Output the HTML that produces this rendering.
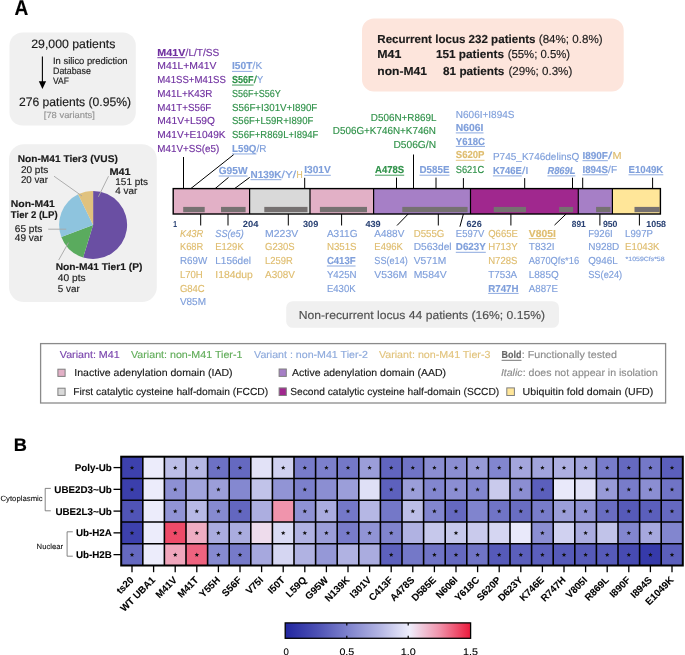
<!DOCTYPE html>
<html><head><meta charset="utf-8"><title>UBA1 variants</title>
<style>
html,body{margin:0;padding:0;background:#fff;}
body{width:685px;height:655px;overflow:hidden;}
svg{display:block;font-family:"Liberation Sans",sans-serif;text-rendering:geometricPrecision;will-change:transform;}
</style></head><body>
<svg width="685" height="655" viewBox="0 0 685 655">
<rect width="685" height="655" fill="#fff"/>
<text x="14.6" y="14.9" font-size="21.5" fill="#000" font-weight="bold" textLength="13.8" lengthAdjust="spacingAndGlyphs" stroke="#000" stroke-width="0.15">A</text>
<rect x="9.5" y="32.5" width="126.3" height="93" fill="#f0f0f0" rx="13"/>
<text x="31.2" y="48" font-size="12.2" fill="#1a1a1a" textLength="84.2" lengthAdjust="spacingAndGlyphs" stroke="#1a1a1a" stroke-width="0.15">29,000 patients</text>
<text x="53" y="64" font-size="9.5" fill="#1a1a1a" textLength="74.6" lengthAdjust="spacingAndGlyphs" stroke="#1a1a1a" stroke-width="0.15">In silico prediction</text>
<text x="53" y="74.2" font-size="9.5" fill="#1a1a1a" textLength="37.8" lengthAdjust="spacingAndGlyphs" stroke="#1a1a1a" stroke-width="0.15">Database</text>
<text x="53" y="84.2" font-size="9.5" fill="#1a1a1a" textLength="15.8" lengthAdjust="spacingAndGlyphs" stroke="#1a1a1a" stroke-width="0.15">VAF</text>
<line x1="42.4" y1="56.6" x2="42.4" y2="82.5" stroke="#000" stroke-width="1.1"/>
<polygon points="38.8,81.3 46.1,81.3 42.45,88.9" fill="#000"/>
<text x="18.9" y="106" font-size="12.2" fill="#1a1a1a" textLength="112.2" lengthAdjust="spacingAndGlyphs" stroke="#1a1a1a" stroke-width="0.15">276 patients (0.95%)</text>
<text x="43.8" y="118.1" font-size="8.9" fill="#949494" textLength="51.1" lengthAdjust="spacingAndGlyphs" stroke="#949494" stroke-width="0.15">[78 variants]</text>
<rect x="9" y="144.2" width="147.8" height="157.9" fill="#f0f0f0" rx="15"/>
<path d="M93.1 224.9 L93.1 190.9 A34 34 0 1 1 83.18 257.42 Z" fill="#6a4fa3"/>
<path d="M93.1 224.9 L83.18 257.42 A34 34 0 0 1 61.33 237.01 Z" fill="#5aab5e"/>
<path d="M93.1 224.9 L61.33 237.01 A34 34 0 0 1 78.15 194.36 Z" fill="#8ec4de"/>
<path d="M93.1 224.9 L78.15 194.36 A34 34 0 0 1 93.1 190.9 Z" fill="#e0c27e"/>
<line x1="54" y1="176.2" x2="82" y2="196" stroke="#a6a6a6" stroke-width="0.9"/>
<line x1="108.5" y1="176.2" x2="98.4" y2="196.8" stroke="#a6a6a6" stroke-width="0.9"/>
<line x1="48.2" y1="229.2" x2="66.2" y2="229.2" stroke="#a6a6a6" stroke-width="0.9"/>
<line x1="58.7" y1="260" x2="68.5" y2="242.6" stroke="#a6a6a6" stroke-width="0.9"/>
<text x="17.8" y="162.2" font-size="9.8" fill="#1a1a1a" font-weight="bold" textLength="100" lengthAdjust="spacingAndGlyphs" stroke="#1a1a1a" stroke-width="0.15">Non-M41 Tier3 (VUS)</text>
<text x="20.9" y="172.7" font-size="9.8" fill="#1a1a1a" textLength="27.3" lengthAdjust="spacingAndGlyphs" stroke="#1a1a1a" stroke-width="0.15">20 pts</text>
<text x="20.9" y="182.7" font-size="9.8" fill="#1a1a1a" textLength="27.1" lengthAdjust="spacingAndGlyphs" stroke="#1a1a1a" stroke-width="0.15">20 var</text>
<text x="109.4" y="175" font-size="9.8" fill="#1a1a1a" font-weight="bold" textLength="21.3" lengthAdjust="spacingAndGlyphs" stroke="#1a1a1a" stroke-width="0.15">M41</text>
<text x="115.3" y="184.8" font-size="9.8" fill="#1a1a1a" textLength="32.7" lengthAdjust="spacingAndGlyphs" stroke="#1a1a1a" stroke-width="0.15">151 pts</text>
<text x="115.3" y="194.2" font-size="9.8" fill="#1a1a1a" textLength="21.9" lengthAdjust="spacingAndGlyphs" stroke="#1a1a1a" stroke-width="0.15">4 var</text>
<text x="10.8" y="206.6" font-size="9.8" fill="#1a1a1a" font-weight="bold" textLength="44" lengthAdjust="spacingAndGlyphs" stroke="#1a1a1a" stroke-width="0.15">Non-M41</text>
<text x="10.8" y="218.2" font-size="9.8" fill="#1a1a1a" font-weight="bold" textLength="46.8" lengthAdjust="spacingAndGlyphs" stroke="#1a1a1a" stroke-width="0.15">Tier 2 (LP)</text>
<text x="14.8" y="231.6" font-size="9.8" fill="#1a1a1a" textLength="27.6" lengthAdjust="spacingAndGlyphs" stroke="#1a1a1a" stroke-width="0.15">65 pts</text>
<text x="14.8" y="241.4" font-size="9.8" fill="#1a1a1a" textLength="28" lengthAdjust="spacingAndGlyphs" stroke="#1a1a1a" stroke-width="0.15">49 var</text>
<text x="55.7" y="270.1" font-size="9.8" fill="#1a1a1a" font-weight="bold" textLength="86.7" lengthAdjust="spacingAndGlyphs" stroke="#1a1a1a" stroke-width="0.15">Non-M41 Tier1 (P)</text>
<text x="57.8" y="281.1" font-size="9.8" fill="#1a1a1a" textLength="27.8" lengthAdjust="spacingAndGlyphs" stroke="#1a1a1a" stroke-width="0.15">40 pts</text>
<text x="57.8" y="291.6" font-size="9.8" fill="#1a1a1a" textLength="21.9" lengthAdjust="spacingAndGlyphs" stroke="#1a1a1a" stroke-width="0.15">5 var</text>
<rect x="362" y="18.4" width="261.7" height="73.1" fill="#fde5dc" rx="12"/>
<text x="377.3" y="42.8" font-size="11.6" fill="#1a1a1a" font-weight="bold" textLength="158.2" lengthAdjust="spacingAndGlyphs" stroke="#1a1a1a" stroke-width="0.15">Recurrent locus 232 patients</text>
<text x="538.8" y="42.8" font-size="11.6" fill="#1a1a1a" textLength="63.8" lengthAdjust="spacingAndGlyphs" stroke="#1a1a1a" stroke-width="0.15">(84%; 0.8%)</text>
<text x="377.3" y="58.4" font-size="11.6" fill="#1a1a1a" font-weight="bold" textLength="24.1" lengthAdjust="spacingAndGlyphs" stroke="#1a1a1a" stroke-width="0.15">M41</text>
<text x="435.9" y="58.4" font-size="11.6" fill="#1a1a1a" font-weight="bold" textLength="68.1" lengthAdjust="spacingAndGlyphs" stroke="#1a1a1a" stroke-width="0.15">151 patients</text>
<text x="507.7" y="58.4" font-size="11.6" fill="#1a1a1a" textLength="62.4" lengthAdjust="spacingAndGlyphs" stroke="#1a1a1a" stroke-width="0.15">(55%; 0.5%)</text>
<text x="377.3" y="74.6" font-size="11.6" fill="#1a1a1a" font-weight="bold" textLength="49.7" lengthAdjust="spacingAndGlyphs" stroke="#1a1a1a" stroke-width="0.15">non-M41</text>
<text x="443.1" y="74.6" font-size="11.6" fill="#1a1a1a" font-weight="bold" textLength="61.3" lengthAdjust="spacingAndGlyphs" stroke="#1a1a1a" stroke-width="0.15">81 patients</text>
<text x="508.4" y="74.6" font-size="11.6" fill="#1a1a1a" textLength="63.9" lengthAdjust="spacingAndGlyphs" stroke="#1a1a1a" stroke-width="0.15">(29%; 0.3%)</text>
<text x="157.3" y="55.8" font-size="10.2" fill="#7030a0" font-weight="bold" textLength="28" lengthAdjust="spacingAndGlyphs" stroke="#7030a0" stroke-width="0.15">M41V</text>
<line x1="157.3" y1="57.7" x2="185.3" y2="57.7" stroke="#7030a0" stroke-width="0.9"/>
<text x="185.6" y="55.8" font-size="10.2" fill="#7030a0" textLength="33.7" lengthAdjust="spacingAndGlyphs" stroke="#7030a0" stroke-width="0.15">/L/T/SS</text>
<text x="157.3" y="69.48" font-size="10.2" fill="#7030a0" textLength="59.1" lengthAdjust="spacingAndGlyphs" stroke="#7030a0" stroke-width="0.15">M41L+M41V</text>
<text x="157.3" y="83.16" font-size="10.2" fill="#7030a0" textLength="68.6" lengthAdjust="spacingAndGlyphs" stroke="#7030a0" stroke-width="0.15">M41SS+M41SS</text>
<text x="157.3" y="96.84" font-size="10.2" fill="#7030a0" textLength="55.2" lengthAdjust="spacingAndGlyphs" stroke="#7030a0" stroke-width="0.15">M41L+K43R</text>
<text x="157.3" y="110.52" font-size="10.2" fill="#7030a0" textLength="54" lengthAdjust="spacingAndGlyphs" stroke="#7030a0" stroke-width="0.15">M41T+S56F</text>
<text x="157.3" y="124.2" font-size="10.2" fill="#7030a0" textLength="57.7" lengthAdjust="spacingAndGlyphs" stroke="#7030a0" stroke-width="0.15">M41V+L59Q</text>
<text x="157.3" y="137.88" font-size="10.2" fill="#7030a0" textLength="68.3" lengthAdjust="spacingAndGlyphs" stroke="#7030a0" stroke-width="0.15">M41V+E1049K</text>
<text x="157.3" y="151.56" font-size="10.2" fill="#7030a0" textLength="62" lengthAdjust="spacingAndGlyphs" stroke="#7030a0" stroke-width="0.15">M41V+SS(e5)</text>
<text x="232" y="69.48" font-size="10.2" fill="#7f9fdb" font-weight="bold" textLength="20.4" lengthAdjust="spacingAndGlyphs" stroke="#7f9fdb" stroke-width="0.15">I50T</text>
<line x1="232" y1="71.38" x2="252.4" y2="71.38" stroke="#7f9fdb" stroke-width="0.9"/>
<text x="252.6" y="69.48" font-size="10.2" fill="#7f9fdb" textLength="9.6" lengthAdjust="spacingAndGlyphs" stroke="#7f9fdb" stroke-width="0.15">/K</text>
<text x="232" y="83.16" font-size="10.2" fill="#2e9148" font-weight="bold" textLength="21.6" lengthAdjust="spacingAndGlyphs" stroke="#2e9148" stroke-width="0.15">S56F</text>
<line x1="232" y1="85.06" x2="253.6" y2="85.06" stroke="#2e9148" stroke-width="0.9"/>
<text x="253.8" y="83.16" font-size="10.2" fill="#2e9148" textLength="3.2" lengthAdjust="spacingAndGlyphs" stroke="#2e9148" stroke-width="0.15">/</text>
<text x="257" y="83.16" font-size="10.2" fill="#7f9fdb" textLength="6.2" lengthAdjust="spacingAndGlyphs" stroke="#7f9fdb" stroke-width="0.15">Y</text>
<text x="232" y="96.84" font-size="10.2" fill="#2e9148" textLength="48.9" lengthAdjust="spacingAndGlyphs" stroke="#2e9148" stroke-width="0.15">S56F+S56Y</text>
<text x="232" y="110.52" font-size="10.2" fill="#2e9148" textLength="85.3" lengthAdjust="spacingAndGlyphs" stroke="#2e9148" stroke-width="0.15">S56F+I301V+I890F</text>
<text x="232" y="124.2" font-size="10.2" fill="#2e9148" textLength="81.3" lengthAdjust="spacingAndGlyphs" stroke="#2e9148" stroke-width="0.15">S56F+L59R+I890F</text>
<text x="232" y="137.88" font-size="10.2" fill="#2e9148" textLength="86.4" lengthAdjust="spacingAndGlyphs" stroke="#2e9148" stroke-width="0.15">S56F+R869L+I894F</text>
<text x="232" y="152.06" font-size="10.2" fill="#7f9fdb" font-weight="bold" textLength="24.4" lengthAdjust="spacingAndGlyphs" stroke="#7f9fdb" stroke-width="0.15">L59Q</text>
<line x1="232" y1="153.96" x2="256.4" y2="153.96" stroke="#7f9fdb" stroke-width="0.9"/>
<text x="256.6" y="152.06" font-size="10.2" fill="#7f9fdb" textLength="10" lengthAdjust="spacingAndGlyphs" stroke="#7f9fdb" stroke-width="0.15">/R</text>
<text x="218.7" y="174.1" font-size="10.2" fill="#7f9fdb" font-weight="bold" textLength="28.8" lengthAdjust="spacingAndGlyphs" stroke="#7f9fdb" stroke-width="0.15">G95W</text>
<line x1="218.7" y1="176" x2="247.5" y2="176" stroke="#7f9fdb" stroke-width="0.9"/>
<text x="250.5" y="177.8" font-size="10.2" fill="#7f9fdb" font-weight="bold" textLength="30.9" lengthAdjust="spacingAndGlyphs" stroke="#7f9fdb" stroke-width="0.15">N139K</text>
<line x1="250.5" y1="179.7" x2="281.4" y2="179.7" stroke="#7f9fdb" stroke-width="0.9"/>
<text x="281.6" y="177.8" font-size="10.2" fill="#7f9fdb" textLength="14.6" lengthAdjust="spacingAndGlyphs" stroke="#7f9fdb" stroke-width="0.15">/Y/</text>
<text x="296.6" y="177.8" font-size="10.2" fill="#dfbd6f" textLength="6.2" lengthAdjust="spacingAndGlyphs" stroke="#dfbd6f" stroke-width="0.15">H</text>
<text x="304.2" y="173.4" font-size="10.2" fill="#7f9fdb" font-weight="bold" textLength="26.6" lengthAdjust="spacingAndGlyphs" stroke="#7f9fdb" stroke-width="0.15">I301V</text>
<line x1="304.2" y1="175.3" x2="330.8" y2="175.3" stroke="#7f9fdb" stroke-width="0.9"/>
<text x="370.8" y="120.7" font-size="10.2" fill="#2e9148" textLength="65.6" lengthAdjust="spacingAndGlyphs" stroke="#2e9148" stroke-width="0.15">D506N+R869L</text>
<text x="332.8" y="134.4" font-size="10.2" fill="#2e9148" textLength="103.2" lengthAdjust="spacingAndGlyphs" stroke="#2e9148" stroke-width="0.15">D506G+K746N+K746N</text>
<text x="393.5" y="148.4" font-size="10.2" fill="#2e9148" textLength="42.5" lengthAdjust="spacingAndGlyphs" stroke="#2e9148" stroke-width="0.15">D506G/N</text>
<text x="375" y="173.3" font-size="10.2" fill="#2e9148" font-weight="bold" textLength="29.2" lengthAdjust="spacingAndGlyphs" stroke="#2e9148" stroke-width="0.15">A478S</text>
<line x1="375" y1="175.2" x2="404.2" y2="175.2" stroke="#2e9148" stroke-width="0.9"/>
<text x="419.5" y="173.3" font-size="10.2" fill="#7f9fdb" font-weight="bold" textLength="30" lengthAdjust="spacingAndGlyphs" stroke="#7f9fdb" stroke-width="0.15">D585E</text>
<line x1="419.5" y1="175.2" x2="449.5" y2="175.2" stroke="#7f9fdb" stroke-width="0.9"/>
<text x="455.8" y="117.5" font-size="10.2" fill="#7f9fdb" textLength="58.7" lengthAdjust="spacingAndGlyphs" stroke="#7f9fdb" stroke-width="0.15">N606I+I894S</text>
<text x="455.8" y="131" font-size="10.2" fill="#7f9fdb" font-weight="bold" textLength="27.7" lengthAdjust="spacingAndGlyphs" stroke="#7f9fdb" stroke-width="0.15">N606I</text>
<line x1="455.8" y1="132.9" x2="483.5" y2="132.9" stroke="#7f9fdb" stroke-width="0.9"/>
<text x="455.8" y="144.5" font-size="10.2" fill="#7f9fdb" font-weight="bold" textLength="29.2" lengthAdjust="spacingAndGlyphs" stroke="#7f9fdb" stroke-width="0.15">Y618C</text>
<line x1="455.8" y1="146.4" x2="485" y2="146.4" stroke="#7f9fdb" stroke-width="0.9"/>
<text x="455.8" y="158.4" font-size="10.2" fill="#dfbd6f" font-weight="bold" textLength="28.7" lengthAdjust="spacingAndGlyphs" stroke="#dfbd6f" stroke-width="0.15">S620P</text>
<line x1="455.8" y1="160.3" x2="484.5" y2="160.3" stroke="#dfbd6f" stroke-width="0.9"/>
<text x="455.8" y="172.6" font-size="10.2" fill="#2e9148" textLength="28.3" lengthAdjust="spacingAndGlyphs" stroke="#2e9148" stroke-width="0.15">S621C</text>
<text x="492.9" y="160.4" font-size="10.2" fill="#7f9fdb" textLength="86.4" lengthAdjust="spacingAndGlyphs" stroke="#7f9fdb" stroke-width="0.15">P745_K746delinsQ</text>
<text x="492.9" y="174" font-size="10.2" fill="#7f9fdb" font-weight="bold" textLength="28.9" lengthAdjust="spacingAndGlyphs" stroke="#7f9fdb" stroke-width="0.15">K746E</text>
<line x1="492.9" y1="175.9" x2="521.8" y2="175.9" stroke="#7f9fdb" stroke-width="0.9"/>
<text x="522" y="174" font-size="10.2" fill="#7f9fdb" textLength="6.7" lengthAdjust="spacingAndGlyphs" stroke="#7f9fdb" stroke-width="0.15">/I</text>
<text x="547.4" y="174" font-size="10.2" fill="#7f9fdb" font-weight="bold" font-style="italic" textLength="28" lengthAdjust="spacingAndGlyphs" stroke="#7f9fdb" stroke-width="0.15">R869L</text>
<line x1="547.4" y1="175.9" x2="575.4" y2="175.9" stroke="#7f9fdb" stroke-width="0.9"/>
<text x="582.5" y="158.8" font-size="10.2" fill="#7f9fdb" font-weight="bold" textLength="25.4" lengthAdjust="spacingAndGlyphs" stroke="#7f9fdb" stroke-width="0.15">I890F</text>
<line x1="582.5" y1="160.7" x2="607.9" y2="160.7" stroke="#7f9fdb" stroke-width="0.9"/>
<text x="608.1" y="158.8" font-size="10.2" fill="#7f9fdb" textLength="4.2" lengthAdjust="spacingAndGlyphs" stroke="#7f9fdb" stroke-width="0.15">/</text>
<text x="612.5" y="158.8" font-size="10.2" fill="#dfbd6f" textLength="9.1" lengthAdjust="spacingAndGlyphs" stroke="#dfbd6f" stroke-width="0.15">M</text>
<text x="582.5" y="172.9" font-size="10.2" fill="#7f9fdb" font-weight="bold" textLength="25.4" lengthAdjust="spacingAndGlyphs" stroke="#7f9fdb" stroke-width="0.15">I894S</text>
<line x1="582.5" y1="174.8" x2="607.9" y2="174.8" stroke="#7f9fdb" stroke-width="0.9"/>
<text x="608.1" y="172.9" font-size="10.2" fill="#7f9fdb" textLength="9" lengthAdjust="spacingAndGlyphs" stroke="#7f9fdb" stroke-width="0.15">/F</text>
<text x="628.5" y="172.9" font-size="10.2" fill="#7f9fdb" font-weight="bold" textLength="34.8" lengthAdjust="spacingAndGlyphs" stroke="#7f9fdb" stroke-width="0.15">E1049K</text>
<line x1="628.5" y1="174.8" x2="663.3" y2="174.8" stroke="#7f9fdb" stroke-width="0.9"/>
<line x1="183.5" y1="157" x2="183.5" y2="189" stroke="#000" stroke-width="1"/>
<line x1="233.6" y1="154.7" x2="190.5" y2="188.8" stroke="#000" stroke-width="1"/>
<line x1="228.5" y1="177.4" x2="214.9" y2="188.8" stroke="#000" stroke-width="1"/>
<line x1="249.7" y1="177.4" x2="234.3" y2="188.8" stroke="#000" stroke-width="1"/>
<line x1="304.7" y1="177.8" x2="304.7" y2="189" stroke="#000" stroke-width="1"/>
<line x1="396.5" y1="177.6" x2="396.5" y2="189" stroke="#000" stroke-width="1"/>
<line x1="413.5" y1="154.5" x2="413.5" y2="189" stroke="#000" stroke-width="1"/>
<line x1="436" y1="177.6" x2="436" y2="189" stroke="#000" stroke-width="1"/>
<line x1="463.4" y1="178.1" x2="463.4" y2="189" stroke="#000" stroke-width="1"/>
<line x1="524.7" y1="178.1" x2="524.7" y2="189" stroke="#000" stroke-width="1"/>
<line x1="572.5" y1="177.7" x2="572.5" y2="189" stroke="#000" stroke-width="1"/>
<line x1="582.7" y1="177.7" x2="582.7" y2="189" stroke="#000" stroke-width="1"/>
<line x1="652.6" y1="177.7" x2="652.6" y2="189" stroke="#000" stroke-width="1"/>
<rect x="173.2" y="188.6" width="76.4" height="25.4" fill="#e2b0c6"/>
<rect x="249.6" y="188.6" width="60.4" height="25.4" fill="#d9d9d9"/>
<rect x="310" y="188.6" width="63.6" height="25.4" fill="#e2b0c6"/>
<rect x="373.6" y="188.6" width="96.9" height="25.4" fill="#a67fc6"/>
<rect x="470.5" y="188.6" width="107.8" height="25.4" fill="#a0288e"/>
<rect x="578.3" y="188.6" width="34.1" height="25.4" fill="#a67fc6"/>
<rect x="612.4" y="188.6" width="48" height="25.4" fill="#ffe699"/>
<rect x="183.2" y="206.9" width="21.5" height="5.3" fill="#767171"/>
<rect x="221" y="206.9" width="24.6" height="5.3" fill="#767171"/>
<rect x="264.3" y="206.9" width="43.2" height="5.3" fill="#767171"/>
<rect x="319.9" y="206.9" width="47.1" height="5.3" fill="#767171"/>
<rect x="402.3" y="206.9" width="65.3" height="5.3" fill="#767171"/>
<rect x="493.7" y="206.9" width="32.3" height="5.3" fill="#767171"/>
<rect x="559.1" y="206.9" width="14" height="5.3" fill="#767171"/>
<rect x="596.1" y="206.9" width="14.4" height="5.3" fill="#767171"/>
<rect x="634.5" y="206.9" width="25" height="5.3" fill="#767171"/>
<line x1="249.6" y1="188.6" x2="249.6" y2="214" stroke="#000" stroke-width="1.2"/>
<line x1="310" y1="188.6" x2="310" y2="214" stroke="#000" stroke-width="1.2"/>
<line x1="373.6" y1="188.6" x2="373.6" y2="214" stroke="#000" stroke-width="1.2"/>
<line x1="470.5" y1="188.6" x2="470.5" y2="214" stroke="#000" stroke-width="1.2"/>
<line x1="578.3" y1="188.6" x2="578.3" y2="214" stroke="#000" stroke-width="1.2"/>
<line x1="612.4" y1="188.6" x2="612.4" y2="214" stroke="#000" stroke-width="1.2"/>
<rect x="173.2" y="188.6" width="487.2" height="25.4" fill="none" stroke="#000" stroke-width="1.4"/>
<line x1="200.7" y1="214" x2="200.7" y2="225.5" stroke="#000" stroke-width="1"/>
<line x1="228" y1="214" x2="228" y2="225.5" stroke="#000" stroke-width="1"/>
<line x1="288.3" y1="214" x2="288.3" y2="225.5" stroke="#000" stroke-width="1"/>
<line x1="341.6" y1="214" x2="341.6" y2="225.5" stroke="#000" stroke-width="1"/>
<line x1="438.3" y1="214" x2="438.3" y2="225.5" stroke="#000" stroke-width="1"/>
<line x1="510.9" y1="214" x2="510.9" y2="225.5" stroke="#000" stroke-width="1"/>
<line x1="599.9" y1="214" x2="599.9" y2="225.5" stroke="#000" stroke-width="1"/>
<line x1="639.4" y1="214" x2="639.4" y2="225.5" stroke="#000" stroke-width="1"/>
<line x1="408.2" y1="214" x2="397" y2="225.5" stroke="#000" stroke-width="1"/>
<line x1="463.4" y1="214" x2="459.9" y2="226.7" stroke="#000" stroke-width="1"/>
<line x1="566.1" y1="214" x2="554.5" y2="225.1" stroke="#000" stroke-width="1"/>
<text x="173.2" y="226.5" font-size="8.8" fill="#2a4274" font-weight="bold" textLength="3.7" lengthAdjust="spacingAndGlyphs" stroke="#2a4274" stroke-width="0.05">1</text>
<text x="242.8" y="226.5" font-size="8.8" fill="#2a4274" font-weight="bold" textLength="15.6" lengthAdjust="spacingAndGlyphs" stroke="#2a4274" stroke-width="0.05">204</text>
<text x="303" y="226.5" font-size="8.8" fill="#2a4274" font-weight="bold" textLength="15.2" lengthAdjust="spacingAndGlyphs" stroke="#2a4274" stroke-width="0.05">309</text>
<text x="365.4" y="226.5" font-size="8.8" fill="#2a4274" font-weight="bold" textLength="15.2" lengthAdjust="spacingAndGlyphs" stroke="#2a4274" stroke-width="0.05">439</text>
<text x="466.5" y="226.5" font-size="8.8" fill="#2a4274" font-weight="bold" textLength="15.2" lengthAdjust="spacingAndGlyphs" stroke="#2a4274" stroke-width="0.05">626</text>
<text x="571.8" y="226.5" font-size="8.8" fill="#2a4274" font-weight="bold" textLength="13.9" lengthAdjust="spacingAndGlyphs" stroke="#2a4274" stroke-width="0.05">891</text>
<text x="602.9" y="226.5" font-size="8.8" fill="#2a4274" font-weight="bold" textLength="14.6" lengthAdjust="spacingAndGlyphs" stroke="#2a4274" stroke-width="0.05">950</text>
<text x="646.3" y="226.5" font-size="8.8" fill="#2a4274" font-weight="bold" textLength="19.7" lengthAdjust="spacingAndGlyphs" stroke="#2a4274" stroke-width="0.05">1058</text>
<text x="179.9" y="236.7" font-size="10.2" fill="#dfbd6f" font-style="italic" textLength="23.4" lengthAdjust="spacingAndGlyphs" stroke="#dfbd6f" stroke-width="0.15">K43R</text>
<text x="179.9" y="250.4" font-size="10.2" fill="#dfbd6f" textLength="23.4" lengthAdjust="spacingAndGlyphs" stroke="#dfbd6f" stroke-width="0.15">K68R</text>
<text x="179.9" y="264.1" font-size="10.2" fill="#7f9fdb" textLength="27.3" lengthAdjust="spacingAndGlyphs" stroke="#7f9fdb" stroke-width="0.15">R69W</text>
<text x="179.9" y="277.8" font-size="10.2" fill="#dfbd6f" textLength="22.9" lengthAdjust="spacingAndGlyphs" stroke="#dfbd6f" stroke-width="0.15">L70H</text>
<text x="179.9" y="291.5" font-size="10.2" fill="#dfbd6f" textLength="24.8" lengthAdjust="spacingAndGlyphs" stroke="#dfbd6f" stroke-width="0.15">G84C</text>
<text x="179.9" y="305.2" font-size="10.2" fill="#7f9fdb" textLength="26.1" lengthAdjust="spacingAndGlyphs" stroke="#7f9fdb" stroke-width="0.15">V85M</text>
<text x="215.3" y="236.7" font-size="10.2" fill="#7f9fdb" font-style="italic" textLength="28.4" lengthAdjust="spacingAndGlyphs" stroke="#7f9fdb" stroke-width="0.15">SS(e5)</text>
<text x="215.3" y="250.4" font-size="10.2" fill="#dfbd6f" textLength="28.4" lengthAdjust="spacingAndGlyphs" stroke="#dfbd6f" stroke-width="0.15">E129K</text>
<text x="215.3" y="264.1" font-size="10.2" fill="#7f9fdb" textLength="35.7" lengthAdjust="spacingAndGlyphs" stroke="#7f9fdb" stroke-width="0.15">L156del</text>
<text x="215.3" y="277.8" font-size="10.2" fill="#dfbd6f" textLength="37.6" lengthAdjust="spacingAndGlyphs" stroke="#dfbd6f" stroke-width="0.15">I184dup</text>
<text x="265.1" y="236.7" font-size="10.2" fill="#7f9fdb" textLength="33.1" lengthAdjust="spacingAndGlyphs" stroke="#7f9fdb" stroke-width="0.15">M223V</text>
<text x="265.1" y="250.4" font-size="10.2" fill="#dfbd6f" textLength="29.5" lengthAdjust="spacingAndGlyphs" stroke="#dfbd6f" stroke-width="0.15">G230S</text>
<text x="265.1" y="264.1" font-size="10.2" fill="#dfbd6f" textLength="27.7" lengthAdjust="spacingAndGlyphs" stroke="#dfbd6f" stroke-width="0.15">L259R</text>
<text x="265.1" y="277.8" font-size="10.2" fill="#dfbd6f" textLength="29.9" lengthAdjust="spacingAndGlyphs" stroke="#dfbd6f" stroke-width="0.15">A308V</text>
<text x="326.9" y="236.7" font-size="10.2" fill="#7f9fdb" textLength="30.6" lengthAdjust="spacingAndGlyphs" stroke="#7f9fdb" stroke-width="0.15">A311G</text>
<text x="326.9" y="250.4" font-size="10.2" fill="#dfbd6f" textLength="29.7" lengthAdjust="spacingAndGlyphs" stroke="#dfbd6f" stroke-width="0.15">N351S</text>
<text x="326.9" y="264.1" font-size="10.2" fill="#7f9fdb" font-weight="bold" textLength="28.7" lengthAdjust="spacingAndGlyphs" stroke="#7f9fdb" stroke-width="0.15">C413F</text>
<line x1="326.9" y1="266" x2="355.6" y2="266" stroke="#7f9fdb" stroke-width="0.9"/>
<text x="326.9" y="277.8" font-size="10.2" fill="#7f9fdb" textLength="29.7" lengthAdjust="spacingAndGlyphs" stroke="#7f9fdb" stroke-width="0.15">Y425N</text>
<text x="326.9" y="291.5" font-size="10.2" fill="#7f9fdb" textLength="28.7" lengthAdjust="spacingAndGlyphs" stroke="#7f9fdb" stroke-width="0.15">E430K</text>
<text x="374.3" y="236.7" font-size="10.2" fill="#7f9fdb" textLength="30" lengthAdjust="spacingAndGlyphs" stroke="#7f9fdb" stroke-width="0.15">A488V</text>
<text x="374.3" y="250.4" font-size="10.2" fill="#dfbd6f" textLength="28.6" lengthAdjust="spacingAndGlyphs" stroke="#dfbd6f" stroke-width="0.15">E496K</text>
<text x="374.3" y="264.1" font-size="10.2" fill="#7f9fdb" textLength="33.5" lengthAdjust="spacingAndGlyphs" stroke="#7f9fdb" stroke-width="0.15">SS(e14)</text>
<text x="374.3" y="277.8" font-size="10.2" fill="#7f9fdb" textLength="33" lengthAdjust="spacingAndGlyphs" stroke="#7f9fdb" stroke-width="0.15">V536M</text>
<text x="413.7" y="236.7" font-size="10.2" fill="#dfbd6f" textLength="30.6" lengthAdjust="spacingAndGlyphs" stroke="#dfbd6f" stroke-width="0.15">D555G</text>
<text x="413.7" y="250.4" font-size="10.2" fill="#7f9fdb" textLength="37.9" lengthAdjust="spacingAndGlyphs" stroke="#7f9fdb" stroke-width="0.15">D563del</text>
<text x="413.7" y="264.1" font-size="10.2" fill="#7f9fdb" textLength="32.5" lengthAdjust="spacingAndGlyphs" stroke="#7f9fdb" stroke-width="0.15">V571M</text>
<text x="413.7" y="277.8" font-size="10.2" fill="#7f9fdb" textLength="33" lengthAdjust="spacingAndGlyphs" stroke="#7f9fdb" stroke-width="0.15">M584V</text>
<text x="455.8" y="236.7" font-size="10.2" fill="#7f9fdb" textLength="28.5" lengthAdjust="spacingAndGlyphs" stroke="#7f9fdb" stroke-width="0.15">E597V</text>
<text x="455.8" y="250.4" font-size="10.2" fill="#7f9fdb" font-weight="bold" textLength="30" lengthAdjust="spacingAndGlyphs" stroke="#7f9fdb" stroke-width="0.15">D623Y</text>
<line x1="455.8" y1="252.3" x2="485.8" y2="252.3" stroke="#7f9fdb" stroke-width="0.9"/>
<text x="488.2" y="236.7" font-size="10.2" fill="#dfbd6f" textLength="29.7" lengthAdjust="spacingAndGlyphs" stroke="#dfbd6f" stroke-width="0.15">Q665E</text>
<text x="488.2" y="250.4" font-size="10.2" fill="#dfbd6f" textLength="29.4" lengthAdjust="spacingAndGlyphs" stroke="#dfbd6f" stroke-width="0.15">H713Y</text>
<text x="488.2" y="264.1" font-size="10.2" fill="#dfbd6f" textLength="29.2" lengthAdjust="spacingAndGlyphs" stroke="#dfbd6f" stroke-width="0.15">N728S</text>
<text x="488.2" y="277.8" font-size="10.2" fill="#7f9fdb" textLength="29" lengthAdjust="spacingAndGlyphs" stroke="#7f9fdb" stroke-width="0.15">T753A</text>
<text x="488.2" y="291.5" font-size="10.2" fill="#7f9fdb" font-weight="bold" textLength="30.4" lengthAdjust="spacingAndGlyphs" stroke="#7f9fdb" stroke-width="0.15">R747H</text>
<line x1="488.2" y1="293.4" x2="518.6" y2="293.4" stroke="#7f9fdb" stroke-width="0.9"/>
<text x="528.8" y="236.7" font-size="10.2" fill="#dfbd6f" font-weight="bold" textLength="27" lengthAdjust="spacingAndGlyphs" stroke="#dfbd6f" stroke-width="0.15">V805I</text>
<line x1="528.8" y1="238.6" x2="555.8" y2="238.6" stroke="#dfbd6f" stroke-width="0.9"/>
<text x="528.8" y="250.4" font-size="10.2" fill="#7f9fdb" textLength="25.8" lengthAdjust="spacingAndGlyphs" stroke="#7f9fdb" stroke-width="0.15">T832I</text>
<text x="528.8" y="264.1" font-size="10.2" fill="#7f9fdb" textLength="50.3" lengthAdjust="spacingAndGlyphs" stroke="#7f9fdb" stroke-width="0.15">A870Qfs*16</text>
<text x="528.8" y="277.8" font-size="10.2" fill="#7f9fdb" textLength="29.9" lengthAdjust="spacingAndGlyphs" stroke="#7f9fdb" stroke-width="0.15">L885Q</text>
<text x="528.8" y="291.5" font-size="10.2" fill="#7f9fdb" textLength="29.2" lengthAdjust="spacingAndGlyphs" stroke="#7f9fdb" stroke-width="0.15">A887E</text>
<text x="588.2" y="236.7" font-size="10.2" fill="#7f9fdb" textLength="24.5" lengthAdjust="spacingAndGlyphs" stroke="#7f9fdb" stroke-width="0.15">F926I</text>
<text x="588.2" y="250.4" font-size="10.2" fill="#7f9fdb" textLength="31.1" lengthAdjust="spacingAndGlyphs" stroke="#7f9fdb" stroke-width="0.15">N928D</text>
<text x="588.2" y="264.1" font-size="10.2" fill="#7f9fdb" textLength="29.6" lengthAdjust="spacingAndGlyphs" stroke="#7f9fdb" stroke-width="0.15">Q946L</text>
<text x="588.2" y="277.8" font-size="10.2" fill="#7f9fdb" textLength="34" lengthAdjust="spacingAndGlyphs" stroke="#7f9fdb" stroke-width="0.15">SS(e24)</text>
<text x="625.1" y="236.7" font-size="10.2" fill="#7f9fdb" textLength="27.8" lengthAdjust="spacingAndGlyphs" stroke="#7f9fdb" stroke-width="0.15">L997P</text>
<text x="625.1" y="250.4" font-size="10.2" fill="#dfbd6f" textLength="34.4" lengthAdjust="spacingAndGlyphs" stroke="#dfbd6f" stroke-width="0.15">E1043K</text>
<text x="625.6" y="260.5" font-size="6.2" fill="#7f9fdb" textLength="39" lengthAdjust="spacingAndGlyphs" stroke="#7f9fdb" stroke-width="0.15">*1059Cfs*58</text>
<rect x="286.2" y="301.2" width="272.8" height="26.6" fill="#f0f0f0" rx="6.5"/>
<text x="298.8" y="318.9" font-size="11.5" fill="#505050" textLength="246.3" lengthAdjust="spacingAndGlyphs" stroke="#505050" stroke-width="0.15">Non-recurrent locus 44 patients (16%; 0.15%)</text>
<rect x="40.6" y="343.6" width="625" height="59.4" fill="#fff" stroke="#8a8a8a" stroke-width="1.3"/>
<text x="59.8" y="358.4" font-size="10.2" fill="#7a45ad" textLength="59.9" lengthAdjust="spacingAndGlyphs" stroke="#7a45ad" stroke-width="0.15">Variant: M41</text>
<text x="131" y="358.4" font-size="10.2" fill="#62ad5a" textLength="111.4" lengthAdjust="spacingAndGlyphs" stroke="#62ad5a" stroke-width="0.15">Variant: non-M41 Tier-1</text>
<text x="254.1" y="358.4" font-size="10.2" fill="#8eaadc" textLength="113.8" lengthAdjust="spacingAndGlyphs" stroke="#8eaadc" stroke-width="0.15">Variant : non-M41 Tier-2</text>
<text x="378.9" y="358.4" font-size="10.2" fill="#e2c47e" textLength="111.5" lengthAdjust="spacingAndGlyphs" stroke="#e2c47e" stroke-width="0.15">Variant: non-M41 Tier-3</text>
<text x="501.6" y="358.4" font-size="10.2" fill="#666666" font-weight="bold" textLength="19.9" lengthAdjust="spacingAndGlyphs" stroke="#666666" stroke-width="0.15">Bold</text>
<line x1="501.6" y1="360.3" x2="521.5" y2="360.3" stroke="#666666" stroke-width="0.9"/>
<text x="521.7" y="358.4" font-size="10.2" fill="#8c8c8c" textLength="95.3" lengthAdjust="spacingAndGlyphs" stroke="#8c8c8c" stroke-width="0.15">: Functionally tested</text>
<text x="500.9" y="376.2" font-size="10.2" fill="#8c8c8c" font-style="italic" textLength="21.6" lengthAdjust="spacingAndGlyphs" stroke="#8c8c8c" stroke-width="0.15">Italic</text>
<text x="522.7" y="376.2" font-size="10.2" fill="#8c8c8c" textLength="135.1" lengthAdjust="spacingAndGlyphs" stroke="#8c8c8c" stroke-width="0.15">: does not appear in isolation</text>
<rect x="57.9" y="369.2" width="7.2" height="7.2" fill="#e2b0c6" stroke="#7f7f7f" stroke-width="1"/>
<rect x="279.1" y="369" width="7.2" height="7.4" fill="#a67fc6" stroke="#7f7f7f" stroke-width="1"/>
<rect x="57.9" y="388.2" width="7.2" height="7.2" fill="#d9d9d9" stroke="#7f7f7f" stroke-width="1"/>
<rect x="279.1" y="387.9" width="7.2" height="7.6" fill="#a0288e" stroke="#7f7f7f" stroke-width="1"/>
<rect x="506.8" y="387.9" width="7.6" height="7.6" fill="#ffe699" stroke="#7f7f7f" stroke-width="1"/>
<text x="74.3" y="376" font-size="10.2" fill="#1a1a1a" textLength="158.3" lengthAdjust="spacingAndGlyphs" stroke="#1a1a1a" stroke-width="0.15">Inactive adenylation domain (IAD)</text>
<text x="291.9" y="376" font-size="10.2" fill="#1a1a1a" textLength="154.2" lengthAdjust="spacingAndGlyphs" stroke="#1a1a1a" stroke-width="0.15">Active adenylation domain (AAD)</text>
<text x="73.3" y="395" font-size="10.2" fill="#1a1a1a" textLength="194.8" lengthAdjust="spacingAndGlyphs" stroke="#1a1a1a" stroke-width="0.15">First catalytic cysteine half-domain (FCCD)</text>
<text x="290.3" y="395" font-size="10.2" fill="#1a1a1a" textLength="208.9" lengthAdjust="spacingAndGlyphs" stroke="#1a1a1a" stroke-width="0.15">Second catalytic cysteine half-domain (SCCD)</text>
<text x="522.6" y="395" font-size="10.2" fill="#1a1a1a" textLength="130.7" lengthAdjust="spacingAndGlyphs" stroke="#1a1a1a" stroke-width="0.15">Ubiquitin fold domain (UFD)</text>
<text x="13.8" y="451.3" font-size="18.2" fill="#000" font-weight="bold" stroke="#000" stroke-width="0.2">B</text>
<rect x="121.2" y="456.7" width="21.6" height="21.76" fill="#3d41ad"/>
<rect x="121.2" y="478.46" width="21.6" height="21.76" fill="#3b3fac"/>
<rect x="121.2" y="500.22" width="21.6" height="21.76" fill="#5054b6"/>
<rect x="121.2" y="521.98" width="21.6" height="21.76" fill="#3d41ad"/>
<rect x="121.2" y="543.74" width="21.6" height="21.76" fill="#6569c0"/>
<rect x="142.8" y="456.7" width="21.6" height="21.76" fill="#ececfb"/>
<rect x="142.8" y="478.46" width="21.6" height="21.76" fill="#ececfb"/>
<rect x="142.8" y="500.22" width="21.6" height="21.76" fill="#ececfb"/>
<rect x="142.8" y="521.98" width="21.6" height="21.76" fill="#ececfb"/>
<rect x="142.8" y="543.74" width="21.6" height="21.76" fill="#ececfb"/>
<rect x="164.4" y="456.7" width="21.6" height="21.76" fill="#bcbee7"/>
<rect x="164.4" y="478.46" width="21.6" height="21.76" fill="#8d90d3"/>
<rect x="164.4" y="500.22" width="21.6" height="21.76" fill="#9194d5"/>
<rect x="164.4" y="521.98" width="21.6" height="21.76" fill="#ee4b69"/>
<rect x="164.4" y="543.74" width="21.6" height="21.76" fill="#f0a6bc"/>
<rect x="186" y="456.7" width="21.6" height="21.76" fill="#b5b7e4"/>
<rect x="186" y="478.46" width="21.6" height="21.76" fill="#a1a4dc"/>
<rect x="186" y="500.22" width="21.6" height="21.76" fill="#b7b9e5"/>
<rect x="186" y="521.98" width="21.6" height="21.76" fill="#efadc2"/>
<rect x="186" y="543.74" width="21.6" height="21.76" fill="#ee637f"/>
<rect x="207.6" y="456.7" width="21.6" height="21.76" fill="#6d71c4"/>
<rect x="207.6" y="478.46" width="21.6" height="21.76" fill="#9b9ed9"/>
<rect x="207.6" y="500.22" width="21.6" height="21.76" fill="#868ad0"/>
<rect x="207.6" y="521.98" width="21.6" height="21.76" fill="#aaacdf"/>
<rect x="207.6" y="543.74" width="21.6" height="21.76" fill="#868ad0"/>
<rect x="229.2" y="456.7" width="21.6" height="21.76" fill="#6569c0"/>
<rect x="229.2" y="478.46" width="21.6" height="21.76" fill="#8488d0"/>
<rect x="229.2" y="500.22" width="21.6" height="21.76" fill="#6367c0"/>
<rect x="229.2" y="521.98" width="21.6" height="21.76" fill="#aaacdf"/>
<rect x="229.2" y="543.74" width="21.6" height="21.76" fill="#767ac9"/>
<rect x="250.8" y="456.7" width="21.6" height="21.76" fill="#e2e2f7"/>
<rect x="250.8" y="478.46" width="21.6" height="21.76" fill="#c1c3e9"/>
<rect x="250.8" y="500.22" width="21.6" height="21.76" fill="#acaee0"/>
<rect x="250.8" y="521.98" width="21.6" height="21.76" fill="#eedcec"/>
<rect x="250.8" y="543.74" width="21.6" height="21.76" fill="#a6a8de"/>
<rect x="272.4" y="456.7" width="21.6" height="21.76" fill="#d0d1f0"/>
<rect x="272.4" y="478.46" width="21.6" height="21.76" fill="#9194d5"/>
<rect x="272.4" y="500.22" width="21.6" height="21.76" fill="#f094ac"/>
<rect x="272.4" y="521.98" width="21.6" height="21.76" fill="#dadbf4"/>
<rect x="272.4" y="543.74" width="21.6" height="21.76" fill="#d5d6f2"/>
<rect x="294" y="456.7" width="21.6" height="21.76" fill="#787cca"/>
<rect x="294" y="478.46" width="21.6" height="21.76" fill="#7c80cc"/>
<rect x="294" y="500.22" width="21.6" height="21.76" fill="#8f92d4"/>
<rect x="294" y="521.98" width="21.6" height="21.76" fill="#b0b2e2"/>
<rect x="294" y="543.74" width="21.6" height="21.76" fill="#b0b2e2"/>
<rect x="315.6" y="456.7" width="21.6" height="21.76" fill="#7c80cc"/>
<rect x="315.6" y="478.46" width="21.6" height="21.76" fill="#8b8ed2"/>
<rect x="315.6" y="500.22" width="21.6" height="21.76" fill="#aaacdf"/>
<rect x="315.6" y="521.98" width="21.6" height="21.76" fill="#9b9ed9"/>
<rect x="315.6" y="543.74" width="21.6" height="21.76" fill="#9598d7"/>
<rect x="337.2" y="456.7" width="21.6" height="21.76" fill="#7478c8"/>
<rect x="337.2" y="478.46" width="21.6" height="21.76" fill="#9b9ed9"/>
<rect x="337.2" y="500.22" width="21.6" height="21.76" fill="#7478c8"/>
<rect x="337.2" y="521.98" width="21.6" height="21.76" fill="#787cca"/>
<rect x="337.2" y="543.74" width="21.6" height="21.76" fill="#b0b2e2"/>
<rect x="358.8" y="456.7" width="21.6" height="21.76" fill="#9b9ed9"/>
<rect x="358.8" y="478.46" width="21.6" height="21.76" fill="#dfe0f6"/>
<rect x="358.8" y="500.22" width="21.6" height="21.76" fill="#b5b7e4"/>
<rect x="358.8" y="521.98" width="21.6" height="21.76" fill="#9194d5"/>
<rect x="358.8" y="543.74" width="21.6" height="21.76" fill="#aaacdf"/>
<rect x="380.4" y="456.7" width="21.6" height="21.76" fill="#6165bf"/>
<rect x="380.4" y="478.46" width="21.6" height="21.76" fill="#5d61bd"/>
<rect x="380.4" y="500.22" width="21.6" height="21.76" fill="#7478c8"/>
<rect x="380.4" y="521.98" width="21.6" height="21.76" fill="#8084ce"/>
<rect x="380.4" y="543.74" width="21.6" height="21.76" fill="#5d61bd"/>
<rect x="402" y="456.7" width="21.6" height="21.76" fill="#7074c6"/>
<rect x="402" y="478.46" width="21.6" height="21.76" fill="#9b9ed9"/>
<rect x="402" y="500.22" width="21.6" height="21.76" fill="#bcbee7"/>
<rect x="402" y="521.98" width="21.6" height="21.76" fill="#b0b2e2"/>
<rect x="402" y="543.74" width="21.6" height="21.76" fill="#7478c8"/>
<rect x="423.6" y="456.7" width="21.6" height="21.76" fill="#8b8ed2"/>
<rect x="423.6" y="478.46" width="21.6" height="21.76" fill="#8286cf"/>
<rect x="423.6" y="500.22" width="21.6" height="21.76" fill="#8286cf"/>
<rect x="423.6" y="521.98" width="21.6" height="21.76" fill="#c6c8eb"/>
<rect x="423.6" y="543.74" width="21.6" height="21.76" fill="#7074c6"/>
<rect x="445.2" y="456.7" width="21.6" height="21.76" fill="#8b8ed2"/>
<rect x="445.2" y="478.46" width="21.6" height="21.76" fill="#8b8ed2"/>
<rect x="445.2" y="500.22" width="21.6" height="21.76" fill="#6569c0"/>
<rect x="445.2" y="521.98" width="21.6" height="21.76" fill="#c6c8eb"/>
<rect x="445.2" y="543.74" width="21.6" height="21.76" fill="#6569c0"/>
<rect x="466.8" y="456.7" width="21.6" height="21.76" fill="#979ad7"/>
<rect x="466.8" y="478.46" width="21.6" height="21.76" fill="#8286cf"/>
<rect x="466.8" y="500.22" width="21.6" height="21.76" fill="#8084ce"/>
<rect x="466.8" y="521.98" width="21.6" height="21.76" fill="#c9caec"/>
<rect x="466.8" y="543.74" width="21.6" height="21.76" fill="#7074c6"/>
<rect x="488.4" y="456.7" width="21.6" height="21.76" fill="#8286cf"/>
<rect x="488.4" y="478.46" width="21.6" height="21.76" fill="#c9caec"/>
<rect x="488.4" y="500.22" width="21.6" height="21.76" fill="#7074c6"/>
<rect x="488.4" y="521.98" width="21.6" height="21.76" fill="#d5d6f2"/>
<rect x="488.4" y="543.74" width="21.6" height="21.76" fill="#565ab9"/>
<rect x="510" y="456.7" width="21.6" height="21.76" fill="#a4a6dd"/>
<rect x="510" y="478.46" width="21.6" height="21.76" fill="#8b8ed2"/>
<rect x="510" y="500.22" width="21.6" height="21.76" fill="#696dc2"/>
<rect x="510" y="521.98" width="21.6" height="21.76" fill="#e9e9fa"/>
<rect x="510" y="543.74" width="21.6" height="21.76" fill="#5b5fbc"/>
<rect x="531.6" y="456.7" width="21.6" height="21.76" fill="#a1a4dc"/>
<rect x="531.6" y="478.46" width="21.6" height="21.76" fill="#5b5fbc"/>
<rect x="531.6" y="500.22" width="21.6" height="21.76" fill="#787cca"/>
<rect x="531.6" y="521.98" width="21.6" height="21.76" fill="#8b8ed2"/>
<rect x="531.6" y="543.74" width="21.6" height="21.76" fill="#5b5fbc"/>
<rect x="553.2" y="456.7" width="21.6" height="21.76" fill="#aeb0e1"/>
<rect x="553.2" y="478.46" width="21.6" height="21.76" fill="#e9e9fa"/>
<rect x="553.2" y="500.22" width="21.6" height="21.76" fill="#9b9ed9"/>
<rect x="553.2" y="521.98" width="21.6" height="21.76" fill="#d0d1f0"/>
<rect x="553.2" y="543.74" width="21.6" height="21.76" fill="#565ab9"/>
<rect x="574.8" y="456.7" width="21.6" height="21.76" fill="#a1a4dc"/>
<rect x="574.8" y="478.46" width="21.6" height="21.76" fill="#e2e2f7"/>
<rect x="574.8" y="500.22" width="21.6" height="21.76" fill="#8f92d4"/>
<rect x="574.8" y="521.98" width="21.6" height="21.76" fill="#aaacdf"/>
<rect x="574.8" y="543.74" width="21.6" height="21.76" fill="#565ab9"/>
<rect x="596.4" y="456.7" width="21.6" height="21.76" fill="#787cca"/>
<rect x="596.4" y="478.46" width="21.6" height="21.76" fill="#979ad7"/>
<rect x="596.4" y="500.22" width="21.6" height="21.76" fill="#696dc2"/>
<rect x="596.4" y="521.98" width="21.6" height="21.76" fill="#c1c3e9"/>
<rect x="596.4" y="543.74" width="21.6" height="21.76" fill="#565ab9"/>
<rect x="618" y="456.7" width="21.6" height="21.76" fill="#6569c0"/>
<rect x="618" y="478.46" width="21.6" height="21.76" fill="#787cca"/>
<rect x="618" y="500.22" width="21.6" height="21.76" fill="#565ab9"/>
<rect x="618" y="521.98" width="21.6" height="21.76" fill="#8286cf"/>
<rect x="618" y="543.74" width="21.6" height="21.76" fill="#474bb2"/>
<rect x="639.6" y="456.7" width="21.6" height="21.76" fill="#7478c8"/>
<rect x="639.6" y="478.46" width="21.6" height="21.76" fill="#8b8ed2"/>
<rect x="639.6" y="500.22" width="21.6" height="21.76" fill="#5b5fbc"/>
<rect x="639.6" y="521.98" width="21.6" height="21.76" fill="#a6a8de"/>
<rect x="639.6" y="543.74" width="21.6" height="21.76" fill="#363aaa"/>
<rect x="661.2" y="456.7" width="21.6" height="21.76" fill="#5b5fbc"/>
<rect x="661.2" y="478.46" width="21.6" height="21.76" fill="#7074c6"/>
<rect x="661.2" y="500.22" width="21.6" height="21.76" fill="#6569c0"/>
<rect x="661.2" y="521.98" width="21.6" height="21.76" fill="#8286cf"/>
<rect x="661.2" y="543.74" width="21.6" height="21.76" fill="#5b5fbc"/>
<line x1="142.8" y1="456.7" x2="142.8" y2="565.5" stroke="#000" stroke-width="1.6"/>
<line x1="164.4" y1="456.7" x2="164.4" y2="565.5" stroke="#000" stroke-width="1.6"/>
<line x1="186" y1="456.7" x2="186" y2="565.5" stroke="#000" stroke-width="1.6"/>
<line x1="207.6" y1="456.7" x2="207.6" y2="565.5" stroke="#000" stroke-width="1.6"/>
<line x1="229.2" y1="456.7" x2="229.2" y2="565.5" stroke="#000" stroke-width="1.6"/>
<line x1="250.8" y1="456.7" x2="250.8" y2="565.5" stroke="#000" stroke-width="1.6"/>
<line x1="272.4" y1="456.7" x2="272.4" y2="565.5" stroke="#000" stroke-width="1.6"/>
<line x1="294" y1="456.7" x2="294" y2="565.5" stroke="#000" stroke-width="1.6"/>
<line x1="315.6" y1="456.7" x2="315.6" y2="565.5" stroke="#000" stroke-width="1.6"/>
<line x1="337.2" y1="456.7" x2="337.2" y2="565.5" stroke="#000" stroke-width="1.6"/>
<line x1="358.8" y1="456.7" x2="358.8" y2="565.5" stroke="#000" stroke-width="1.6"/>
<line x1="380.4" y1="456.7" x2="380.4" y2="565.5" stroke="#000" stroke-width="1.6"/>
<line x1="402" y1="456.7" x2="402" y2="565.5" stroke="#000" stroke-width="1.6"/>
<line x1="423.6" y1="456.7" x2="423.6" y2="565.5" stroke="#000" stroke-width="1.6"/>
<line x1="445.2" y1="456.7" x2="445.2" y2="565.5" stroke="#000" stroke-width="1.6"/>
<line x1="466.8" y1="456.7" x2="466.8" y2="565.5" stroke="#000" stroke-width="1.6"/>
<line x1="488.4" y1="456.7" x2="488.4" y2="565.5" stroke="#000" stroke-width="1.6"/>
<line x1="510" y1="456.7" x2="510" y2="565.5" stroke="#000" stroke-width="1.6"/>
<line x1="531.6" y1="456.7" x2="531.6" y2="565.5" stroke="#000" stroke-width="1.6"/>
<line x1="553.2" y1="456.7" x2="553.2" y2="565.5" stroke="#000" stroke-width="1.6"/>
<line x1="574.8" y1="456.7" x2="574.8" y2="565.5" stroke="#000" stroke-width="1.6"/>
<line x1="596.4" y1="456.7" x2="596.4" y2="565.5" stroke="#000" stroke-width="1.6"/>
<line x1="618" y1="456.7" x2="618" y2="565.5" stroke="#000" stroke-width="1.6"/>
<line x1="639.6" y1="456.7" x2="639.6" y2="565.5" stroke="#000" stroke-width="1.6"/>
<line x1="661.2" y1="456.7" x2="661.2" y2="565.5" stroke="#000" stroke-width="1.6"/>
<line x1="121.2" y1="478.46" x2="682.8" y2="478.46" stroke="#000" stroke-width="1.6"/>
<line x1="121.2" y1="500.22" x2="682.8" y2="500.22" stroke="#000" stroke-width="1.6"/>
<line x1="121.2" y1="521.98" x2="682.8" y2="521.98" stroke="#000" stroke-width="1.6"/>
<line x1="121.2" y1="543.74" x2="682.8" y2="543.74" stroke="#000" stroke-width="1.6"/>
<rect x="121.2" y="456.7" width="561.6" height="108.8" fill="none" stroke="#000" stroke-width="2"/>
<polygon points="132,465.43 132.62,466.92 134.23,467.05 133.01,468.11 133.38,469.68 132,468.84 130.62,469.68 130.99,468.11 129.77,467.05 131.38,466.92" fill="#111"/>
<polygon points="132,487.19 132.62,488.68 134.23,488.81 133.01,489.87 133.38,491.44 132,490.6 130.62,491.44 130.99,489.87 129.77,488.81 131.38,488.68" fill="#111"/>
<polygon points="132,508.95 132.62,510.44 134.23,510.57 133.01,511.63 133.38,513.2 132,512.36 130.62,513.2 130.99,511.63 129.77,510.57 131.38,510.44" fill="#111"/>
<polygon points="132,530.71 132.62,532.2 134.23,532.33 133.01,533.39 133.38,534.96 132,534.12 130.62,534.96 130.99,533.39 129.77,532.33 131.38,532.2" fill="#111"/>
<polygon points="132,552.47 132.62,553.96 134.23,554.09 133.01,555.15 133.38,556.72 132,555.88 130.62,556.72 130.99,555.15 129.77,554.09 131.38,553.96" fill="#111"/>
<polygon points="175.2,465.43 175.82,466.92 177.43,467.05 176.21,468.11 176.58,469.68 175.2,468.84 173.82,469.68 174.19,468.11 172.97,467.05 174.58,466.92" fill="#111"/>
<polygon points="175.2,487.19 175.82,488.68 177.43,488.81 176.21,489.87 176.58,491.44 175.2,490.6 173.82,491.44 174.19,489.87 172.97,488.81 174.58,488.68" fill="#111"/>
<polygon points="175.2,508.95 175.82,510.44 177.43,510.57 176.21,511.63 176.58,513.2 175.2,512.36 173.82,513.2 174.19,511.63 172.97,510.57 174.58,510.44" fill="#111"/>
<polygon points="175.2,530.71 175.82,532.2 177.43,532.33 176.21,533.39 176.58,534.96 175.2,534.12 173.82,534.96 174.19,533.39 172.97,532.33 174.58,532.2" fill="#111"/>
<polygon points="175.2,552.47 175.82,553.96 177.43,554.09 176.21,555.15 176.58,556.72 175.2,555.88 173.82,556.72 174.19,555.15 172.97,554.09 174.58,553.96" fill="#111"/>
<polygon points="196.8,465.43 197.42,466.92 199.03,467.05 197.81,468.11 198.18,469.68 196.8,468.84 195.42,469.68 195.79,468.11 194.57,467.05 196.18,466.92" fill="#111"/>
<polygon points="196.8,508.95 197.42,510.44 199.03,510.57 197.81,511.63 198.18,513.2 196.8,512.36 195.42,513.2 195.79,511.63 194.57,510.57 196.18,510.44" fill="#111"/>
<polygon points="196.8,530.71 197.42,532.2 199.03,532.33 197.81,533.39 198.18,534.96 196.8,534.12 195.42,534.96 195.79,533.39 194.57,532.33 196.18,532.2" fill="#111"/>
<polygon points="196.8,552.47 197.42,553.96 199.03,554.09 197.81,555.15 198.18,556.72 196.8,555.88 195.42,556.72 195.79,555.15 194.57,554.09 196.18,553.96" fill="#111"/>
<polygon points="218.4,465.43 219.02,466.92 220.63,467.05 219.41,468.11 219.78,469.68 218.4,468.84 217.02,469.68 217.39,468.11 216.17,467.05 217.78,466.92" fill="#111"/>
<polygon points="218.4,487.19 219.02,488.68 220.63,488.81 219.41,489.87 219.78,491.44 218.4,490.6 217.02,491.44 217.39,489.87 216.17,488.81 217.78,488.68" fill="#111"/>
<polygon points="218.4,508.95 219.02,510.44 220.63,510.57 219.41,511.63 219.78,513.2 218.4,512.36 217.02,513.2 217.39,511.63 216.17,510.57 217.78,510.44" fill="#111"/>
<polygon points="218.4,530.71 219.02,532.2 220.63,532.33 219.41,533.39 219.78,534.96 218.4,534.12 217.02,534.96 217.39,533.39 216.17,532.33 217.78,532.2" fill="#111"/>
<polygon points="218.4,552.47 219.02,553.96 220.63,554.09 219.41,555.15 219.78,556.72 218.4,555.88 217.02,556.72 217.39,555.15 216.17,554.09 217.78,553.96" fill="#111"/>
<polygon points="240,465.43 240.62,466.92 242.23,467.05 241.01,468.11 241.38,469.68 240,468.84 238.62,469.68 238.99,468.11 237.77,467.05 239.38,466.92" fill="#111"/>
<polygon points="240,508.95 240.62,510.44 242.23,510.57 241.01,511.63 241.38,513.2 240,512.36 238.62,513.2 238.99,511.63 237.77,510.57 239.38,510.44" fill="#111"/>
<polygon points="240,530.71 240.62,532.2 242.23,532.33 241.01,533.39 241.38,534.96 240,534.12 238.62,534.96 238.99,533.39 237.77,532.33 239.38,532.2" fill="#111"/>
<polygon points="240,552.47 240.62,553.96 242.23,554.09 241.01,555.15 241.38,556.72 240,555.88 238.62,556.72 238.99,555.15 237.77,554.09 239.38,553.96" fill="#111"/>
<polygon points="283.2,465.43 283.82,466.92 285.43,467.05 284.21,468.11 284.58,469.68 283.2,468.84 281.82,469.68 282.19,468.11 280.97,467.05 282.58,466.92" fill="#111"/>
<polygon points="283.2,530.71 283.82,532.2 285.43,532.33 284.21,533.39 284.58,534.96 283.2,534.12 281.82,534.96 282.19,533.39 280.97,532.33 282.58,532.2" fill="#111"/>
<polygon points="304.8,465.43 305.42,466.92 307.03,467.05 305.81,468.11 306.18,469.68 304.8,468.84 303.42,469.68 303.79,468.11 302.57,467.05 304.18,466.92" fill="#111"/>
<polygon points="304.8,487.19 305.42,488.68 307.03,488.81 305.81,489.87 306.18,491.44 304.8,490.6 303.42,491.44 303.79,489.87 302.57,488.81 304.18,488.68" fill="#111"/>
<polygon points="304.8,508.95 305.42,510.44 307.03,510.57 305.81,511.63 306.18,513.2 304.8,512.36 303.42,513.2 303.79,511.63 302.57,510.57 304.18,510.44" fill="#111"/>
<polygon points="304.8,530.71 305.42,532.2 307.03,532.33 305.81,533.39 306.18,534.96 304.8,534.12 303.42,534.96 303.79,533.39 302.57,532.33 304.18,532.2" fill="#111"/>
<polygon points="326.4,465.43 327.02,466.92 328.63,467.05 327.41,468.11 327.78,469.68 326.4,468.84 325.02,469.68 325.39,468.11 324.17,467.05 325.78,466.92" fill="#111"/>
<polygon points="326.4,508.95 327.02,510.44 328.63,510.57 327.41,511.63 327.78,513.2 326.4,512.36 325.02,513.2 325.39,511.63 324.17,510.57 325.78,510.44" fill="#111"/>
<polygon points="326.4,530.71 327.02,532.2 328.63,532.33 327.41,533.39 327.78,534.96 326.4,534.12 325.02,534.96 325.39,533.39 324.17,532.33 325.78,532.2" fill="#111"/>
<polygon points="348,465.43 348.62,466.92 350.23,467.05 349.01,468.11 349.38,469.68 348,468.84 346.62,469.68 346.99,468.11 345.77,467.05 347.38,466.92" fill="#111"/>
<polygon points="348,508.95 348.62,510.44 350.23,510.57 349.01,511.63 349.38,513.2 348,512.36 346.62,513.2 346.99,511.63 345.77,510.57 347.38,510.44" fill="#111"/>
<polygon points="348,530.71 348.62,532.2 350.23,532.33 349.01,533.39 349.38,534.96 348,534.12 346.62,534.96 346.99,533.39 345.77,532.33 347.38,532.2" fill="#111"/>
<polygon points="369.6,465.43 370.22,466.92 371.83,467.05 370.61,468.11 370.98,469.68 369.6,468.84 368.22,469.68 368.59,468.11 367.37,467.05 368.98,466.92" fill="#111"/>
<polygon points="369.6,530.71 370.22,532.2 371.83,532.33 370.61,533.39 370.98,534.96 369.6,534.12 368.22,534.96 368.59,533.39 367.37,532.33 368.98,532.2" fill="#111"/>
<polygon points="391.2,465.43 391.82,466.92 393.43,467.05 392.21,468.11 392.58,469.68 391.2,468.84 389.82,469.68 390.19,468.11 388.97,467.05 390.58,466.92" fill="#111"/>
<polygon points="391.2,487.19 391.82,488.68 393.43,488.81 392.21,489.87 392.58,491.44 391.2,490.6 389.82,491.44 390.19,489.87 388.97,488.81 390.58,488.68" fill="#111"/>
<polygon points="391.2,530.71 391.82,532.2 393.43,532.33 392.21,533.39 392.58,534.96 391.2,534.12 389.82,534.96 390.19,533.39 388.97,532.33 390.58,532.2" fill="#111"/>
<polygon points="391.2,552.47 391.82,553.96 393.43,554.09 392.21,555.15 392.58,556.72 391.2,555.88 389.82,556.72 390.19,555.15 388.97,554.09 390.58,553.96" fill="#111"/>
<polygon points="412.8,465.43 413.42,466.92 415.03,467.05 413.81,468.11 414.18,469.68 412.8,468.84 411.42,469.68 411.79,468.11 410.57,467.05 412.18,466.92" fill="#111"/>
<polygon points="412.8,487.19 413.42,488.68 415.03,488.81 413.81,489.87 414.18,491.44 412.8,490.6 411.42,491.44 411.79,489.87 410.57,488.81 412.18,488.68" fill="#111"/>
<polygon points="412.8,508.95 413.42,510.44 415.03,510.57 413.81,511.63 414.18,513.2 412.8,512.36 411.42,513.2 411.79,511.63 410.57,510.57 412.18,510.44" fill="#111"/>
<polygon points="434.4,465.43 435.02,466.92 436.63,467.05 435.41,468.11 435.78,469.68 434.4,468.84 433.02,469.68 433.39,468.11 432.17,467.05 433.78,466.92" fill="#111"/>
<polygon points="434.4,487.19 435.02,488.68 436.63,488.81 435.41,489.87 435.78,491.44 434.4,490.6 433.02,491.44 433.39,489.87 432.17,488.81 433.78,488.68" fill="#111"/>
<polygon points="434.4,508.95 435.02,510.44 436.63,510.57 435.41,511.63 435.78,513.2 434.4,512.36 433.02,513.2 433.39,511.63 432.17,510.57 433.78,510.44" fill="#111"/>
<polygon points="434.4,552.47 435.02,553.96 436.63,554.09 435.41,555.15 435.78,556.72 434.4,555.88 433.02,556.72 433.39,555.15 432.17,554.09 433.78,553.96" fill="#111"/>
<polygon points="456,465.43 456.62,466.92 458.23,467.05 457.01,468.11 457.38,469.68 456,468.84 454.62,469.68 454.99,468.11 453.77,467.05 455.38,466.92" fill="#111"/>
<polygon points="456,487.19 456.62,488.68 458.23,488.81 457.01,489.87 457.38,491.44 456,490.6 454.62,491.44 454.99,489.87 453.77,488.81 455.38,488.68" fill="#111"/>
<polygon points="456,508.95 456.62,510.44 458.23,510.57 457.01,511.63 457.38,513.2 456,512.36 454.62,513.2 454.99,511.63 453.77,510.57 455.38,510.44" fill="#111"/>
<polygon points="456,530.71 456.62,532.2 458.23,532.33 457.01,533.39 457.38,534.96 456,534.12 454.62,534.96 454.99,533.39 453.77,532.33 455.38,532.2" fill="#111"/>
<polygon points="456,552.47 456.62,553.96 458.23,554.09 457.01,555.15 457.38,556.72 456,555.88 454.62,556.72 454.99,555.15 453.77,554.09 455.38,553.96" fill="#111"/>
<polygon points="477.6,465.43 478.22,466.92 479.83,467.05 478.61,468.11 478.98,469.68 477.6,468.84 476.22,469.68 476.59,468.11 475.37,467.05 476.98,466.92" fill="#111"/>
<polygon points="477.6,487.19 478.22,488.68 479.83,488.81 478.61,489.87 478.98,491.44 477.6,490.6 476.22,491.44 476.59,489.87 475.37,488.81 476.98,488.68" fill="#111"/>
<polygon points="477.6,552.47 478.22,553.96 479.83,554.09 478.61,555.15 478.98,556.72 477.6,555.88 476.22,556.72 476.59,555.15 475.37,554.09 476.98,553.96" fill="#111"/>
<polygon points="499.2,465.43 499.82,466.92 501.43,467.05 500.21,468.11 500.58,469.68 499.2,468.84 497.82,469.68 498.19,468.11 496.97,467.05 498.58,466.92" fill="#111"/>
<polygon points="499.2,508.95 499.82,510.44 501.43,510.57 500.21,511.63 500.58,513.2 499.2,512.36 497.82,513.2 498.19,511.63 496.97,510.57 498.58,510.44" fill="#111"/>
<polygon points="499.2,552.47 499.82,553.96 501.43,554.09 500.21,555.15 500.58,556.72 499.2,555.88 497.82,556.72 498.19,555.15 496.97,554.09 498.58,553.96" fill="#111"/>
<polygon points="520.8,465.43 521.42,466.92 523.03,467.05 521.81,468.11 522.18,469.68 520.8,468.84 519.42,469.68 519.79,468.11 518.57,467.05 520.18,466.92" fill="#111"/>
<polygon points="520.8,487.19 521.42,488.68 523.03,488.81 521.81,489.87 522.18,491.44 520.8,490.6 519.42,491.44 519.79,489.87 518.57,488.81 520.18,488.68" fill="#111"/>
<polygon points="520.8,508.95 521.42,510.44 523.03,510.57 521.81,511.63 522.18,513.2 520.8,512.36 519.42,513.2 519.79,511.63 518.57,510.57 520.18,510.44" fill="#111"/>
<polygon points="520.8,552.47 521.42,553.96 523.03,554.09 521.81,555.15 522.18,556.72 520.8,555.88 519.42,556.72 519.79,555.15 518.57,554.09 520.18,553.96" fill="#111"/>
<polygon points="542.4,465.43 543.02,466.92 544.63,467.05 543.41,468.11 543.78,469.68 542.4,468.84 541.02,469.68 541.39,468.11 540.17,467.05 541.78,466.92" fill="#111"/>
<polygon points="542.4,487.19 543.02,488.68 544.63,488.81 543.41,489.87 543.78,491.44 542.4,490.6 541.02,491.44 541.39,489.87 540.17,488.81 541.78,488.68" fill="#111"/>
<polygon points="542.4,508.95 543.02,510.44 544.63,510.57 543.41,511.63 543.78,513.2 542.4,512.36 541.02,513.2 541.39,511.63 540.17,510.57 541.78,510.44" fill="#111"/>
<polygon points="542.4,530.71 543.02,532.2 544.63,532.33 543.41,533.39 543.78,534.96 542.4,534.12 541.02,534.96 541.39,533.39 540.17,532.33 541.78,532.2" fill="#111"/>
<polygon points="542.4,552.47 543.02,553.96 544.63,554.09 543.41,555.15 543.78,556.72 542.4,555.88 541.02,556.72 541.39,555.15 540.17,554.09 541.78,553.96" fill="#111"/>
<polygon points="564,465.43 564.62,466.92 566.23,467.05 565.01,468.11 565.38,469.68 564,468.84 562.62,469.68 562.99,468.11 561.77,467.05 563.38,466.92" fill="#111"/>
<polygon points="564,508.95 564.62,510.44 566.23,510.57 565.01,511.63 565.38,513.2 564,512.36 562.62,513.2 562.99,511.63 561.77,510.57 563.38,510.44" fill="#111"/>
<polygon points="564,552.47 564.62,553.96 566.23,554.09 565.01,555.15 565.38,556.72 564,555.88 562.62,556.72 562.99,555.15 561.77,554.09 563.38,553.96" fill="#111"/>
<polygon points="585.6,465.43 586.22,466.92 587.83,467.05 586.61,468.11 586.98,469.68 585.6,468.84 584.22,469.68 584.59,468.11 583.37,467.05 584.98,466.92" fill="#111"/>
<polygon points="585.6,508.95 586.22,510.44 587.83,510.57 586.61,511.63 586.98,513.2 585.6,512.36 584.22,513.2 584.59,511.63 583.37,510.57 584.98,510.44" fill="#111"/>
<polygon points="585.6,530.71 586.22,532.2 587.83,532.33 586.61,533.39 586.98,534.96 585.6,534.12 584.22,534.96 584.59,533.39 583.37,532.33 584.98,532.2" fill="#111"/>
<polygon points="585.6,552.47 586.22,553.96 587.83,554.09 586.61,555.15 586.98,556.72 585.6,555.88 584.22,556.72 584.59,555.15 583.37,554.09 584.98,553.96" fill="#111"/>
<polygon points="607.2,465.43 607.82,466.92 609.43,467.05 608.21,468.11 608.58,469.68 607.2,468.84 605.82,469.68 606.19,468.11 604.97,467.05 606.58,466.92" fill="#111"/>
<polygon points="607.2,487.19 607.82,488.68 609.43,488.81 608.21,489.87 608.58,491.44 607.2,490.6 605.82,491.44 606.19,489.87 604.97,488.81 606.58,488.68" fill="#111"/>
<polygon points="607.2,508.95 607.82,510.44 609.43,510.57 608.21,511.63 608.58,513.2 607.2,512.36 605.82,513.2 606.19,511.63 604.97,510.57 606.58,510.44" fill="#111"/>
<polygon points="607.2,552.47 607.82,553.96 609.43,554.09 608.21,555.15 608.58,556.72 607.2,555.88 605.82,556.72 606.19,555.15 604.97,554.09 606.58,553.96" fill="#111"/>
<polygon points="628.8,465.43 629.42,466.92 631.03,467.05 629.81,468.11 630.18,469.68 628.8,468.84 627.42,469.68 627.79,468.11 626.57,467.05 628.18,466.92" fill="#111"/>
<polygon points="628.8,487.19 629.42,488.68 631.03,488.81 629.81,489.87 630.18,491.44 628.8,490.6 627.42,491.44 627.79,489.87 626.57,488.81 628.18,488.68" fill="#111"/>
<polygon points="628.8,508.95 629.42,510.44 631.03,510.57 629.81,511.63 630.18,513.2 628.8,512.36 627.42,513.2 627.79,511.63 626.57,510.57 628.18,510.44" fill="#111"/>
<polygon points="628.8,530.71 629.42,532.2 631.03,532.33 629.81,533.39 630.18,534.96 628.8,534.12 627.42,534.96 627.79,533.39 626.57,532.33 628.18,532.2" fill="#111"/>
<polygon points="628.8,552.47 629.42,553.96 631.03,554.09 629.81,555.15 630.18,556.72 628.8,555.88 627.42,556.72 627.79,555.15 626.57,554.09 628.18,553.96" fill="#111"/>
<polygon points="650.4,465.43 651.02,466.92 652.63,467.05 651.41,468.11 651.78,469.68 650.4,468.84 649.02,469.68 649.39,468.11 648.17,467.05 649.78,466.92" fill="#111"/>
<polygon points="650.4,487.19 651.02,488.68 652.63,488.81 651.41,489.87 651.78,491.44 650.4,490.6 649.02,491.44 649.39,489.87 648.17,488.81 649.78,488.68" fill="#111"/>
<polygon points="650.4,508.95 651.02,510.44 652.63,510.57 651.41,511.63 651.78,513.2 650.4,512.36 649.02,513.2 649.39,511.63 648.17,510.57 649.78,510.44" fill="#111"/>
<polygon points="650.4,530.71 651.02,532.2 652.63,532.33 651.41,533.39 651.78,534.96 650.4,534.12 649.02,534.96 649.39,533.39 648.17,532.33 649.78,532.2" fill="#111"/>
<polygon points="650.4,552.47 651.02,553.96 652.63,554.09 651.41,555.15 651.78,556.72 650.4,555.88 649.02,556.72 649.39,555.15 648.17,554.09 649.78,553.96" fill="#111"/>
<polygon points="672,465.43 672.62,466.92 674.23,467.05 673.01,468.11 673.38,469.68 672,468.84 670.62,469.68 670.99,468.11 669.77,467.05 671.38,466.92" fill="#111"/>
<polygon points="672,487.19 672.62,488.68 674.23,488.81 673.01,489.87 673.38,491.44 672,490.6 670.62,491.44 670.99,489.87 669.77,488.81 671.38,488.68" fill="#111"/>
<polygon points="672,508.95 672.62,510.44 674.23,510.57 673.01,511.63 673.38,513.2 672,512.36 670.62,513.2 670.99,511.63 669.77,510.57 671.38,510.44" fill="#111"/>
<polygon points="672,552.47 672.62,553.96 674.23,554.09 673.01,555.15 673.38,556.72 672,555.88 670.62,556.72 670.99,555.15 669.77,554.09 671.38,553.96" fill="#111"/>
<line x1="113.5" y1="467.58" x2="121.2" y2="467.58" stroke="#000" stroke-width="1.3"/>
<line x1="113.5" y1="489.34" x2="121.2" y2="489.34" stroke="#000" stroke-width="1.3"/>
<line x1="113.5" y1="511.1" x2="121.2" y2="511.1" stroke="#000" stroke-width="1.3"/>
<line x1="113.5" y1="532.86" x2="121.2" y2="532.86" stroke="#000" stroke-width="1.3"/>
<line x1="113.5" y1="554.62" x2="121.2" y2="554.62" stroke="#000" stroke-width="1.3"/>
<line x1="132" y1="565.5" x2="132" y2="572.2" stroke="#000" stroke-width="1.3"/>
<line x1="153.6" y1="565.5" x2="153.6" y2="572.2" stroke="#000" stroke-width="1.3"/>
<line x1="175.2" y1="565.5" x2="175.2" y2="572.2" stroke="#000" stroke-width="1.3"/>
<line x1="196.8" y1="565.5" x2="196.8" y2="572.2" stroke="#000" stroke-width="1.3"/>
<line x1="218.4" y1="565.5" x2="218.4" y2="572.2" stroke="#000" stroke-width="1.3"/>
<line x1="240" y1="565.5" x2="240" y2="572.2" stroke="#000" stroke-width="1.3"/>
<line x1="261.6" y1="565.5" x2="261.6" y2="572.2" stroke="#000" stroke-width="1.3"/>
<line x1="283.2" y1="565.5" x2="283.2" y2="572.2" stroke="#000" stroke-width="1.3"/>
<line x1="304.8" y1="565.5" x2="304.8" y2="572.2" stroke="#000" stroke-width="1.3"/>
<line x1="326.4" y1="565.5" x2="326.4" y2="572.2" stroke="#000" stroke-width="1.3"/>
<line x1="348" y1="565.5" x2="348" y2="572.2" stroke="#000" stroke-width="1.3"/>
<line x1="369.6" y1="565.5" x2="369.6" y2="572.2" stroke="#000" stroke-width="1.3"/>
<line x1="391.2" y1="565.5" x2="391.2" y2="572.2" stroke="#000" stroke-width="1.3"/>
<line x1="412.8" y1="565.5" x2="412.8" y2="572.2" stroke="#000" stroke-width="1.3"/>
<line x1="434.4" y1="565.5" x2="434.4" y2="572.2" stroke="#000" stroke-width="1.3"/>
<line x1="456" y1="565.5" x2="456" y2="572.2" stroke="#000" stroke-width="1.3"/>
<line x1="477.6" y1="565.5" x2="477.6" y2="572.2" stroke="#000" stroke-width="1.3"/>
<line x1="499.2" y1="565.5" x2="499.2" y2="572.2" stroke="#000" stroke-width="1.3"/>
<line x1="520.8" y1="565.5" x2="520.8" y2="572.2" stroke="#000" stroke-width="1.3"/>
<line x1="542.4" y1="565.5" x2="542.4" y2="572.2" stroke="#000" stroke-width="1.3"/>
<line x1="564" y1="565.5" x2="564" y2="572.2" stroke="#000" stroke-width="1.3"/>
<line x1="585.6" y1="565.5" x2="585.6" y2="572.2" stroke="#000" stroke-width="1.3"/>
<line x1="607.2" y1="565.5" x2="607.2" y2="572.2" stroke="#000" stroke-width="1.3"/>
<line x1="628.8" y1="565.5" x2="628.8" y2="572.2" stroke="#000" stroke-width="1.3"/>
<line x1="650.4" y1="565.5" x2="650.4" y2="572.2" stroke="#000" stroke-width="1.3"/>
<line x1="672" y1="565.5" x2="672" y2="572.2" stroke="#000" stroke-width="1.3"/>
<text x="111.8" y="470.98" font-size="9.8" fill="#000" font-weight="bold" text-anchor="end" stroke="#000" stroke-width="0.1">Poly-Ub</text>
<text x="111.8" y="492.74" font-size="9.8" fill="#000" font-weight="bold" text-anchor="end" stroke="#000" stroke-width="0.1">UBE2D3~Ub</text>
<text x="111.8" y="514.5" font-size="9.8" fill="#000" font-weight="bold" text-anchor="end" stroke="#000" stroke-width="0.1">UBE2L3~Ub</text>
<text x="111.8" y="536.26" font-size="9.8" fill="#000" font-weight="bold" text-anchor="end" stroke="#000" stroke-width="0.1">Ub-H2A</text>
<text x="111.8" y="558.02" font-size="9.8" fill="#000" font-weight="bold" text-anchor="end" stroke="#000" stroke-width="0.1">Ub-H2B</text>
<polyline points="50.8,488.4 45.2,488.4 45.2,510.8 50.8,510.8" fill="none" stroke="#666" stroke-width="0.8"/>
<polyline points="72.8,531.8 67.1,531.8 67.1,556.2 72.8,556.2" fill="none" stroke="#666" stroke-width="0.8"/>
<text x="0.5" y="500.6" font-size="7.6" fill="#111" textLength="42.2" lengthAdjust="spacingAndGlyphs" stroke="#111" stroke-width="0.1">Cytoplasmic</text>
<text x="36.6" y="549" font-size="7.6" fill="#111" textLength="26.4" lengthAdjust="spacingAndGlyphs" stroke="#111" stroke-width="0.1">Nuclear</text>
<text transform="translate(134.3 580.6) rotate(-45)" text-anchor="end" font-size="9.8" font-weight="bold" fill="#000" stroke="#000" stroke-width="0.1">ts20</text>
<text transform="translate(155.9 580.6) rotate(-45)" text-anchor="end" font-size="9.8" font-weight="bold" fill="#000" stroke="#000" stroke-width="0.1">WT UBA1</text>
<text transform="translate(177.5 580.6) rotate(-45)" text-anchor="end" font-size="9.8" font-weight="bold" fill="#000" stroke="#000" stroke-width="0.1">M41V</text>
<text transform="translate(199.1 580.6) rotate(-45)" text-anchor="end" font-size="9.8" font-weight="bold" fill="#000" stroke="#000" stroke-width="0.1">M41T</text>
<text transform="translate(220.7 580.6) rotate(-45)" text-anchor="end" font-size="9.8" font-weight="bold" fill="#000" stroke="#000" stroke-width="0.1">Y55H</text>
<text transform="translate(242.3 580.6) rotate(-45)" text-anchor="end" font-size="9.8" font-weight="bold" fill="#000" stroke="#000" stroke-width="0.1">S56F</text>
<text transform="translate(263.9 580.6) rotate(-45)" text-anchor="end" font-size="9.8" font-weight="bold" fill="#000" stroke="#000" stroke-width="0.1">V75I</text>
<text transform="translate(285.5 580.6) rotate(-45)" text-anchor="end" font-size="9.8" font-weight="bold" fill="#000" stroke="#000" stroke-width="0.1">I50T</text>
<text transform="translate(307.1 580.6) rotate(-45)" text-anchor="end" font-size="9.8" font-weight="bold" fill="#000" stroke="#000" stroke-width="0.1">L59Q</text>
<text transform="translate(328.7 580.6) rotate(-45)" text-anchor="end" font-size="9.8" font-weight="bold" fill="#000" stroke="#000" stroke-width="0.1">G95W</text>
<text transform="translate(350.3 580.6) rotate(-45)" text-anchor="end" font-size="9.8" font-weight="bold" fill="#000" stroke="#000" stroke-width="0.1">N139K</text>
<text transform="translate(371.9 580.6) rotate(-45)" text-anchor="end" font-size="9.8" font-weight="bold" fill="#000" stroke="#000" stroke-width="0.1">I301V</text>
<text transform="translate(393.5 580.6) rotate(-45)" text-anchor="end" font-size="9.8" font-weight="bold" fill="#000" stroke="#000" stroke-width="0.1">C413F</text>
<text transform="translate(415.1 580.6) rotate(-45)" text-anchor="end" font-size="9.8" font-weight="bold" fill="#000" stroke="#000" stroke-width="0.1">A478S</text>
<text transform="translate(436.7 580.6) rotate(-45)" text-anchor="end" font-size="9.8" font-weight="bold" fill="#000" stroke="#000" stroke-width="0.1">D585E</text>
<text transform="translate(458.3 580.6) rotate(-45)" text-anchor="end" font-size="9.8" font-weight="bold" fill="#000" stroke="#000" stroke-width="0.1">N606I</text>
<text transform="translate(479.9 580.6) rotate(-45)" text-anchor="end" font-size="9.8" font-weight="bold" fill="#000" stroke="#000" stroke-width="0.1">Y618C</text>
<text transform="translate(501.5 580.6) rotate(-45)" text-anchor="end" font-size="9.8" font-weight="bold" fill="#000" stroke="#000" stroke-width="0.1">S620P</text>
<text transform="translate(523.1 580.6) rotate(-45)" text-anchor="end" font-size="9.8" font-weight="bold" fill="#000" stroke="#000" stroke-width="0.1">D623Y</text>
<text transform="translate(544.7 580.6) rotate(-45)" text-anchor="end" font-size="9.8" font-weight="bold" fill="#000" stroke="#000" stroke-width="0.1">K746E</text>
<text transform="translate(566.3 580.6) rotate(-45)" text-anchor="end" font-size="9.8" font-weight="bold" fill="#000" stroke="#000" stroke-width="0.1">R747H</text>
<text transform="translate(587.9 580.6) rotate(-45)" text-anchor="end" font-size="9.8" font-weight="bold" fill="#000" stroke="#000" stroke-width="0.1">V805I</text>
<text transform="translate(609.5 580.6) rotate(-45)" text-anchor="end" font-size="9.8" font-weight="bold" fill="#000" stroke="#000" stroke-width="0.1">R869L</text>
<text transform="translate(631.1 580.6) rotate(-45)" text-anchor="end" font-size="9.8" font-weight="bold" fill="#000" stroke="#000" stroke-width="0.1">I890F</text>
<text transform="translate(652.7 580.6) rotate(-45)" text-anchor="end" font-size="9.8" font-weight="bold" fill="#000" stroke="#000" stroke-width="0.1">I894S</text>
<text transform="translate(674.3 580.6) rotate(-45)" text-anchor="end" font-size="9.8" font-weight="bold" fill="#000" stroke="#000" stroke-width="0.1">E1049K</text>
<defs><linearGradient id="cb" x1="0" x2="1" y1="0" y2="0">
<stop offset="0" stop-color="rgb(34,38,160)"/>
<stop offset="0.17" stop-color="rgb(76,80,180)"/>
<stop offset="0.33" stop-color="rgb(124,128,204)"/>
<stop offset="0.5" stop-color="rgb(176,178,226)"/>
<stop offset="0.67" stop-color="rgb(238,238,252)"/>
<stop offset="0.83" stop-color="rgb(240,148,172)"/>
<stop offset="1" stop-color="rgb(236,26,60)"/>
</linearGradient></defs>
<rect x="285.2" y="622.9" width="185.4" height="15.4" fill="url(#cb)" stroke="#000" stroke-width="1.3"/>
<line x1="346.8" y1="622.9" x2="346.8" y2="625.4" stroke="#000" stroke-width="1.2"/>
<line x1="346.8" y1="635.8" x2="346.8" y2="638.3" stroke="#000" stroke-width="1.2"/>
<line x1="408.2" y1="622.9" x2="408.2" y2="625.4" stroke="#000" stroke-width="1.2"/>
<line x1="408.2" y1="635.8" x2="408.2" y2="638.3" stroke="#000" stroke-width="1.2"/>
<text x="283.4" y="655" font-size="9.6" fill="#000" stroke="#000" stroke-width="0.1">0</text>
<text x="339.4" y="655" font-size="9.6" fill="#000" textLength="14.9" lengthAdjust="spacingAndGlyphs" stroke="#000" stroke-width="0.1">0.5</text>
<text x="400.7" y="655" font-size="9.6" fill="#000" textLength="15" lengthAdjust="spacingAndGlyphs" stroke="#000" stroke-width="0.1">1.0</text>
<text x="463" y="655" font-size="9.6" fill="#000" textLength="14.9" lengthAdjust="spacingAndGlyphs" stroke="#000" stroke-width="0.1">1.5</text>
</svg>
</body></html>
